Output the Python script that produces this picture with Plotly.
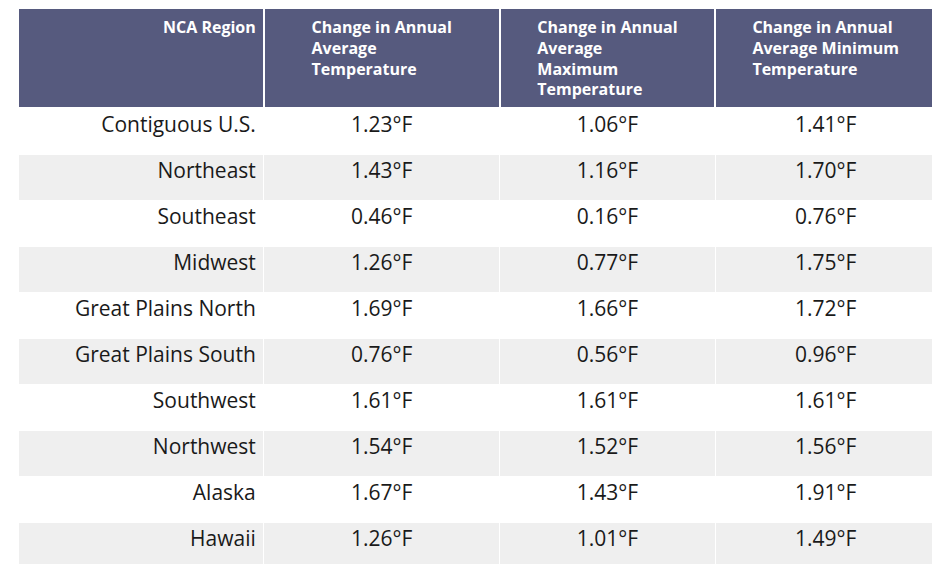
import plotly.graph_objects as go

regions = ["Contiguous U.S.", "Northeast", "Southeast", "Midwest", "Great Plains North",
           "Great Plains South", "Southwest", "Northwest", "Alaska", "Hawaii"]
avg_temp = ["1.23°F", "1.43°F", "0.46°F", "1.26°F", "1.69°F", "0.76°F", "1.61°F", "1.54°F", "1.67°F", "1.26°F"]
max_temp = ["1.06°F", "1.16°F", "0.16°F", "0.77°F", "1.66°F", "0.56°F", "1.61°F", "1.52°F", "1.43°F", "1.01°F"]
min_temp = ["1.41°F", "1.70°F", "0.76°F", "1.75°F", "1.72°F", "0.96°F", "1.61°F", "1.56°F", "1.91°F", "1.49°F"]
headers = ["<b>NCA Region</b>",
           "<b>Change in Annual<br>Average<br>Temperature</b>",
           "<b>Change in Annual<br>Average<br>Maximum<br>Temperature</b>",
           "<b>Change in Annual<br>Average Minimum<br>Temperature</b>"]

fills = ["#ffffff" if i % 2 == 0 else "#efefef" for i in range(len(regions))]

fig = go.Figure(go.Table(
    domain=dict(x=[0, 1], y=[0, 1]),
    columnwidth=[245, 235, 215, 220],
    header=dict(values=headers, fill_color="#565a7e", line_color="white", line_width=2,
                align=["right", "center", "center", "center"], height=20,
                font=dict(family="Open Sans", size=16, color="white")),
    cells=dict(values=[regions, avg_temp, max_temp, min_temp],
               fill_color=[fills] * 4, line_color="white", line_width=1,
               align=["right", "center", "center", "center"], height=46,
               font=dict(family="Open Sans", size=21, color="#1a1a1a")),
))
fig.update_layout(width=940, height=564, margin=dict(l=10, r=12, t=0, b=0, pad=0),
                  paper_bgcolor="white")
fig.write_html("out.html")
